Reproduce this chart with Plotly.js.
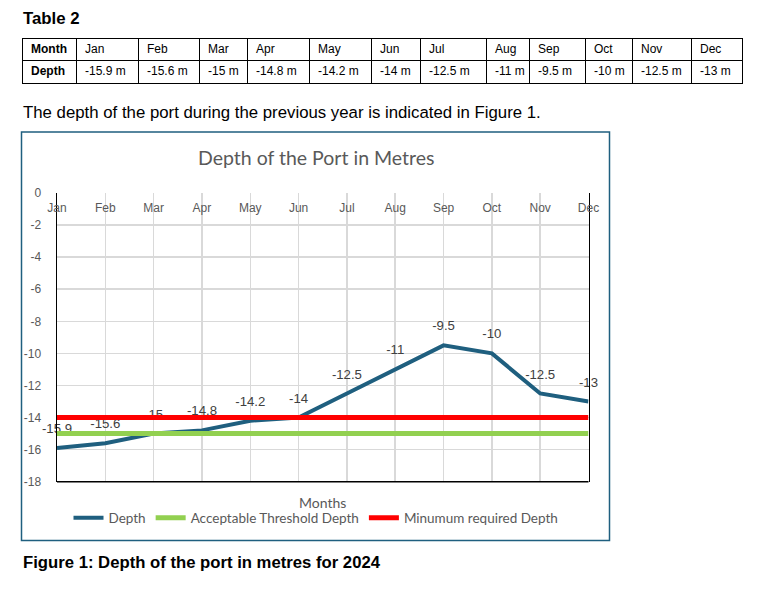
<!DOCTYPE html>
<html>
<head>
<meta charset="utf-8">
<script src="https://cdn.plot.ly/plotly-3.0.1.min.js"></script>
<style>
html,body{margin:0;padding:0;background:#fff;}
#wrap{position:relative;width:777px;height:590px;}
#chart{position:absolute;left:0;top:0;width:777px;height:590px;}
#tbl{position:absolute;left:22px;top:37.5px;border-collapse:collapse;table-layout:fixed;
     font-family:'Liberation Sans',Arial,sans-serif;font-size:12px;color:#000;z-index:2;background:#fff;}
#tbl td{border:1.5px solid #000;height:21.5px;padding:0 0 0 8px;white-space:nowrap;overflow:hidden;line-height:21.5px;}
#tbl td.hd{font-weight:bold;}
</style>
</head>
<body>
<div id="wrap">
<div id="chart"></div>
<table id="tbl"><tbody><tr id="rowMonth"></tr><tr id="rowDepth"></tr></tbody></table>
</div>
<script>
// ---- data ----
const months = ['Jan','Feb','Mar','Apr','May','Jun','Jul','Aug','Sep','Oct','Nov','Dec'];
const depth = [-15.9,-15.6,-15,-14.8,-14.2,-14,-12.5,-11,-9.5,-10,-12.5,-13];
const threshold = [-15,-15,-15,-15,-15,-15,-15,-15,-15,-15,-15,-15];
const minimum = [-14,-14,-14,-14,-14,-14,-14,-14,-14,-14,-14,-14];
const yTickVals = [0,-2,-4,-6,-8,-10,-12,-14,-16,-18];
const yTickText = ['0','-2','-4','-6','-8','-10','-12','-14','-16','-18'];
const tableColWidths = [54,62,61,48,62,62,49,66,43,56,47,59,51];

// ---- table (document text) built from the arrays ----
(function buildTable(){
  const rm = document.getElementById('rowMonth');
  const rd = document.getElementById('rowDepth');
  const headRow = ['Month'].concat(months);
  const valRow = ['Depth'].concat(depth.map(v => String(v) + ' m'));
  headRow.forEach((t, i) => {
    const td = document.createElement('td');
    td.textContent = t; td.style.width = (tableColWidths[i] - 9) + 'px';
    if (i === 0) td.className = 'hd';
    rm.appendChild(td);
  });
  valRow.forEach((t, i) => {
    const td = document.createElement('td');
    td.textContent = t; td.style.width = (tableColWidths[i] - 9) + 'px';
    if (i === 0) td.className = 'hd';
    rd.appendChild(td);
  });
})();

// ---- helpers for pixel -> paper ----
const W = 777, H = 590;
const px = x => x / W;
const py = y => 1 - y / H;

const gray = '#595959';
const chartFont = 'Liberation Sans, Arial, sans-serif';

const labelTrace = {
  type: 'scatter', mode: 'markers+text', name: 'labels', showlegend: false,
  x: months, y: depth,
  text: depth.map(v => String(v)),
  textposition: 'top center',
  textfont: {family: chartFont, size: 13.2, color: '#404040'},
  marker: {size: 17, opacity: 0, color: '#1f5f7f'},
  cliponaxis: false
};
const depthTrace = {
  type: 'scatter', mode: 'lines', name: 'Depth',
  x: months, y: depth,
  line: {color: '#1f5f7f', width: 4}
};
const thrTrace = {
  type: 'scatter', mode: 'lines', name: 'Acceptable Threshold Depth',
  x: months, y: threshold,
  line: {color: '#92d050', width: 5}
};
const minTrace = {
  type: 'scatter', mode: 'lines', name: 'Minumum required Depth',
  x: months, y: minimum,
  line: {color: '#ff0000', width: 5}
};

const layout = {
  width: W, height: H, autosize: false,
  margin: {l: 0, r: 0, t: 0, b: 0, pad: 0},
  paper_bgcolor: '#fff', plot_bgcolor: '#fff',
  showlegend: true,
  font: {family: chartFont, color: gray},
  xaxis: {
    domain: [px(57), px(588.5)],
    type: 'category', range: [0, 11],
    side: 'top', ticklabelposition: 'inside', ticklabeloverflow: 'allow',
    ticks: '', ticklabelstandoff: 8,
    showgrid: true, gridcolor: '#d9d9d9', gridwidth: 1.5,
    showline: false, zeroline: false,
    tickfont: {family: chartFont, size: 12, color: gray},
    fixedrange: true
  },
  yaxis: {
    domain: [py(481.7), py(193)],
    range: [-18, 0],
    tickvals: yTickVals, ticktext: yTickText,
    ticks: '', ticklabelstandoff: 12,
    showgrid: true, gridcolor: '#d9d9d9', gridwidth: 1.5,
    showline: true, linecolor: '#000', linewidth: 1.5, mirror: true,
    zeroline: false,
    tickfont: {family: chartFont, size: 12, color: gray},
    fixedrange: true
  },
  legend: {
    orientation: 'h', x: px(316), xanchor: 'center', y: py(518), yanchor: 'middle',
    font: {family: 'Lato, sans-serif', size: 13.5, color: gray},
    bgcolor: 'rgba(0,0,0,0)'
  },
  shapes: [
    {type: 'rect', xref: 'paper', yref: 'paper', x0: px(21.5), x1: px(609.5), y0: py(540.5), y1: py(132),
     line: {color: '#1f5f7f', width: 1.5}, fillcolor: 'rgba(0,0,0,0)', layer: 'below'},
    {type: 'line', xref: 'x domain', yref: 'y domain', x0: 0, x1: 1, y0: 0, y1: 0,
     line: {color: '#000', width: 1.5}}
  ],
  annotations: [
    {text: '<b>Table 2</b>', xref: 'paper', yref: 'paper', x: px(21), y: py(18.5), xanchor: 'left', yanchor: 'middle',
     showarrow: false, font: {family: 'Liberation Sans, Arial', size: 16.8, color: '#000'}},
    {text: 'The depth of the port during the previous year is indicated in Figure 1.', xref: 'paper', yref: 'paper',
     x: px(21), y: py(113), xanchor: 'left', yanchor: 'middle', showarrow: false,
     font: {family: 'Liberation Sans, Arial', size: 16.8, color: '#000'}},
    {text: 'Depth of the Port in Metres', xref: 'paper', yref: 'paper', x: px(316), y: py(157), xanchor: 'center', yanchor: 'middle',
     showarrow: false, font: {family: 'Lato, sans-serif', size: 19.5, color: gray}},
    {text: 'Months', xref: 'paper', yref: 'paper', x: px(322), y: py(502), xanchor: 'center', yanchor: 'middle',
     showarrow: false, font: {family: 'Lato, sans-serif', size: 14, color: gray}},
    {text: '<b>Figure 1: Depth of the port in metres for 2024</b>', xref: 'paper', yref: 'paper', x: px(21), y: py(562),
     xanchor: 'left', yanchor: 'middle', showarrow: false, font: {family: 'Liberation Sans, Arial', size: 16.7, color: '#000'}}
  ]
};

Plotly.newPlot('chart', [labelTrace, depthTrace, thrTrace, minTrace], layout, {staticPlot: true, displayModeBar: false});
</script>
</body>
</html>
